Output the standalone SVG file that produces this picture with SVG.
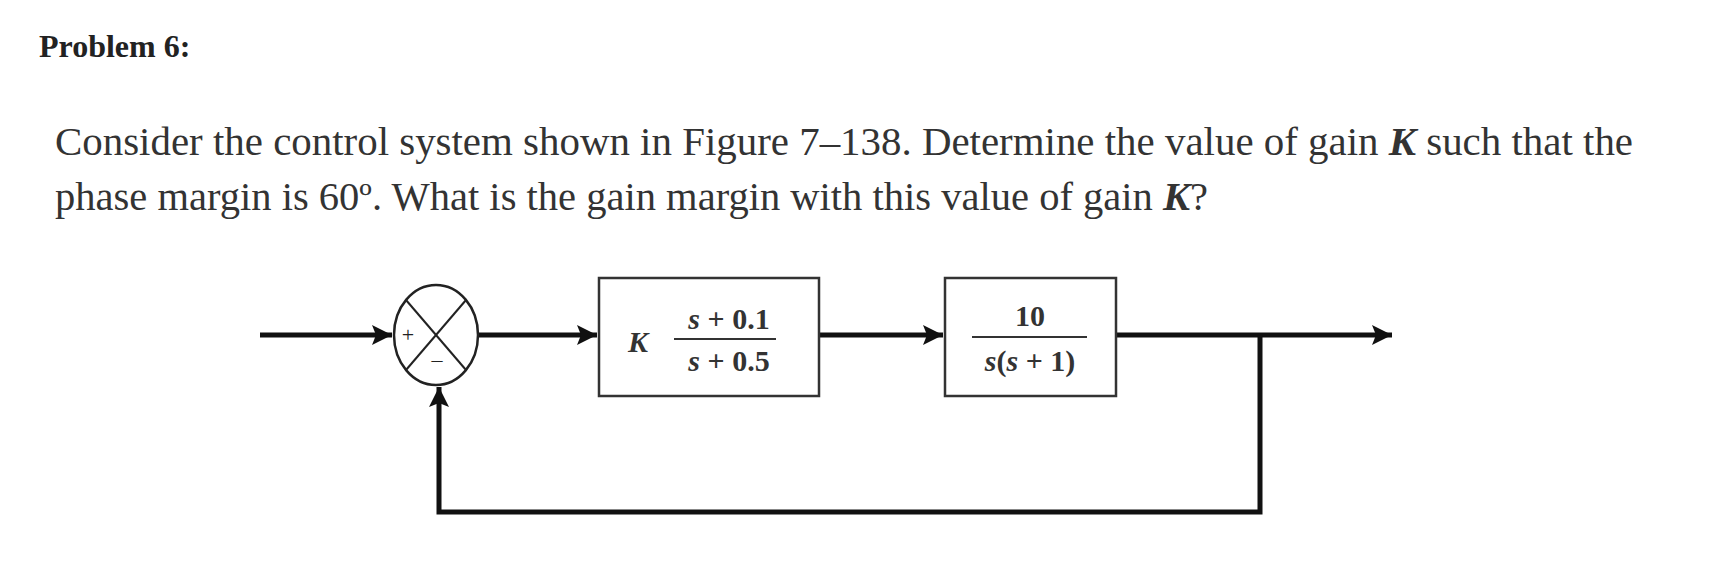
<svg xmlns="http://www.w3.org/2000/svg" width="1724" height="588" viewBox="0 0 1724 588">
<style>
.t{font-family:"Liberation Serif","Times New Roman",serif;fill:#222}
.p{font-size:39px;fill:#333}
.m{font-size:30px;font-weight:bold;fill:#333}
.ln{stroke:#111;stroke-width:5;fill:none}
.bx{stroke:#333;stroke-width:2.5;fill:#fff}
</style>
<defs>
<marker id="a" viewBox="0 0 10 10" refX="10" refY="5" markerWidth="7" markerHeight="4" markerUnits="strokeWidth" orient="auto"><path d="M0,0L10,5L0,10L2,5Z" fill="#111"/></marker>
</defs>
<rect width="1724" height="588" fill="#fff"/>
<text class="t" x="39" y="57" font-size="32" font-weight="bold" fill="#000">Problem 6:</text>
<text class="t p" x="55" y="155" textLength="1578" lengthAdjust="spacingAndGlyphs">Consider the control system shown in Figure 7–138. Determine the value of gain <tspan font-style="italic" font-weight="bold">K</tspan> such that the</text>
<text class="t p" x="55" y="210" textLength="1153" lengthAdjust="spacingAndGlyphs">phase margin is 60º. What is the gain margin with this value of gain <tspan font-style="italic" font-weight="bold">K</tspan>?</text>
<g id="connectors">
<line class="ln" x1="260" y1="335" x2="392" y2="335" marker-end="url(#a)"/>
<line class="ln" x1="478" y1="335" x2="597" y2="335" marker-end="url(#a)"/>
<line class="ln" x1="819" y1="335" x2="943" y2="335" marker-end="url(#a)"/>
<line class="ln" x1="1116" y1="335" x2="1392" y2="335" marker-end="url(#a)"/>
<polyline class="ln" points="1260,335 1260,512 439,512 439,387" marker-end="url(#a)"/>
</g>
<g id="sum">
<ellipse cx="436" cy="335" rx="42" ry="50" fill="#fff" stroke="#222" stroke-width="2.5"/>
<line x1="406" y1="300" x2="466" y2="370" stroke="#222" stroke-width="2"/>
<line x1="466" y1="300" x2="406" y2="370" stroke="#222" stroke-width="2"/>
<text class="t" x="408" y="342" font-size="22" text-anchor="middle" fill="#333">+</text>
<text class="t" x="437" y="367" font-size="22" text-anchor="middle" fill="#333">–</text>
</g>
<g id="block1">
<rect class="bx" x="599" y="278" width="220" height="118"/>
<text class="t m" x="638" y="352" font-style="italic" text-anchor="middle">K</text>
<text class="t m" x="729" y="329" text-anchor="middle"><tspan font-style="italic">s</tspan> + 0.1</text>
<line x1="674" y1="339" x2="776" y2="339" stroke="#333" stroke-width="2"/>
<text class="t m" x="729" y="371" text-anchor="middle"><tspan font-style="italic">s</tspan> + 0.5</text>
</g>
<g id="block2">
<rect class="bx" x="945" y="278" width="171" height="118"/>
<text class="t m" x="1030" y="326" text-anchor="middle">10</text>
<line x1="972" y1="337" x2="1087" y2="337" stroke="#333" stroke-width="2"/>
<text class="t m" x="1030" y="371" text-anchor="middle"><tspan font-style="italic">s</tspan>(<tspan font-style="italic">s</tspan> + 1)</text>
</g>
</svg>
